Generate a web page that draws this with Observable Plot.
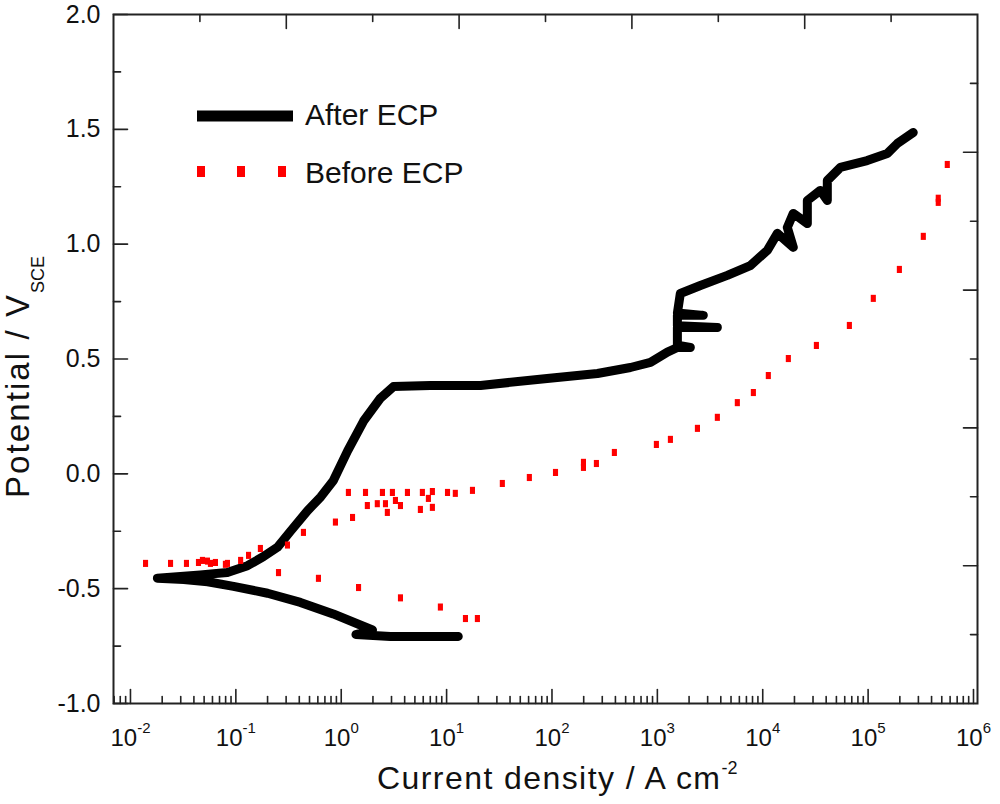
<!DOCTYPE html>
<html><head><meta charset="utf-8">
<script src="https://cdn.jsdelivr.net/npm/d3@7"></script>
<script src="https://cdn.jsdelivr.net/npm/@observablehq/plot@0.6"></script>
<style>html,body{margin:0;padding:0;background:#fff;} #chart{position:relative;width:1000px;height:804px;}</style>
</head><body><div id="chart"></div>
<script>
// ---- Data (current density in A cm^-2, potential in V vs SCE) ----
const afterI = [12.9, 5.64, 2.93, 1.38, 1.98, 0.84, 0.41, 0.20, 0.095, 0.054, 0.032, 0.018, 0.046, 0.083, 0.129, 0.183, 0.248, 0.33, 0.48, 0.64, 0.84, 1.15, 1.63, 2.36, 3.13, 7.0, 21, 90, 270, 555, 860, 1245, 1549, 2056, 1549, 1549, 3710, 1549, 1549, 2730, 1549, 1652, 2560, 4610, 7620, 11060, 13770, 19500, 17100, 19500, 26500, 26500, 35200, 41000, 41000, 54500, 98000, 152000, 189000, 268000];
const afterE = [-0.708, -0.708, -0.708, -0.70, -0.68, -0.61, -0.56, -0.52, -0.49, -0.47, -0.46, -0.455, -0.44, -0.43, -0.40, -0.36, -0.32, -0.25, -0.16, -0.10, -0.03, 0.10, 0.23, 0.33, 0.38, 0.385, 0.385, 0.415, 0.437, 0.463, 0.485, 0.53, 0.55, 0.55, 0.56, 0.637, 0.637, 0.645, 0.69, 0.69, 0.70, 0.785, 0.82, 0.864, 0.907, 0.973, 1.047, 0.986, 1.073, 1.134, 1.09, 1.19, 1.234, 1.19, 1.277, 1.334, 1.364, 1.395, 1.438, 1.486];

const beforeI = [19.6, 15.1, 8.73, 3.65, 1.46, 0.608, 0.254, 0.0139, 0.024, 0.034, 0.0442, 0.0482, 0.0538, 0.0574, 0.064, 0.0796, 0.0832, 0.111, 0.132, 0.171, 0.309, 0.438, 0.881, 1.28, 1.77, 2.20, 2.63, 2.74, 3.27, 3.65, 5.64, 7.33, 6.72, 1.17, 1.70, 2.46, 3.06, 4.25, 5.89, 7.33, 10.2, 12.1, 17.6, 33.8, 61, 108, 199, 199, 264, 391, 979, 1330, 2400, 3710, 5740, 8150, 11300, 17500, 32300, 66400, 112000, 198000, 334000, 463000, 463000, 564000];
const beforeE = [-0.63, -0.63, -0.58, -0.54, -0.495, -0.455, -0.43, -0.39, -0.39, -0.39, -0.386, -0.377, -0.38, -0.39, -0.386, -0.394, -0.39, -0.377, -0.355, -0.325, -0.31, -0.255, -0.21, -0.19, -0.138, -0.13, -0.13, -0.168, -0.116, -0.138, -0.155, -0.146, -0.107, -0.081, -0.081, -0.081, -0.081, -0.081, -0.081, -0.077, -0.081, -0.085, -0.072, -0.042, -0.016, 0.006, 0.05, 0.028, 0.045, 0.093, 0.128, 0.15, 0.198, 0.246, 0.31, 0.354, 0.428, 0.502, 0.559, 0.646, 0.764, 0.89, 1.034, 1.182, 1.20, 1.347];

const seriesNames = ["After ECP", "Before ECP"];
const xExponents = [-2, -1, 0, 1, 2, 3, 4, 5, 6];
const yMajor = [-1.0, -0.5, 0.0, 0.5, 1.0, 1.5, 2.0];
const yMinor = [-0.75, -0.25, 0.25, 0.75, 1.25, 1.75];
const xLabel = "Current density / A cm";
const xLabelSup = "-2";
const yLabel = "Potential / V";
const yLabelSub = "SCE";

// ---- Derived tables ----
const xLo = -2.161, xHi = 6.038;
const after = afterI.map((v, i) => ({i: v, e: afterE[i]}));
const before = beforeI.map((v, i) => ({i: v, e: beforeE[i]}));
const xMajor = xExponents.map(p => 10 ** p);
const xMinor = [];
for (let p = -3; p <= 6; p++) for (let m = 2; m <= 9; m++) {
  const v = m * 10 ** p;
  if (Math.log10(v) > xLo && Math.log10(v) < xHi) xMinor.push(v);
}
const k10 = d3.range(1, 10);
const topMajor = k10.filter(k => k % 2 === 0).map(k => 10 ** (xLo + k * (xHi - xLo) / 10));
const topMinor = k10.filter(k => k % 2 === 1).map(k => 10 ** (xLo + k * (xHi - xLo) / 10));
const rightMajor = k10.filter(k => k % 2 === 0).map(k => 2 - k * 0.3);
const rightMinor = k10.filter(k => k % 2 === 1).map(k => 2 - k * 0.3);

const tickShape = {draw(ctx, l) { ctx.moveTo(0, 0); ctx.lineTo(0, -l); }};
const T = {stroke: "#222", strokeWidth: 1.6, shape: tickShape, anchor: "start"};
const rectSym = {draw(ctx, size) { const s = Math.sqrt(size); ctx.rect(-s * 0.36, -s * 0.5, s * 0.72, s); }};
const FONT = "'Liberation Sans', Arial, Helvetica, sans-serif";

const svg = Plot.plot({
  width: 1000, height: 804,
  marginLeft: 113, marginRight: 23, marginTop: 14, marginBottom: 101,
  x: {type: "log", domain: [10 ** xLo, 10 ** xHi]},
  y: {domain: [-1, 2]},
  style: {fontFamily: FONT, background: "#fff", color: "#111"},
  marks: [
    Plot.line(after, {x: "i", y: "e", stroke: "#000", strokeWidth: 9, strokeLinejoin: "round", strokeLinecap: "round"}),
    Plot.dot(before, {x: "i", y: "e", symbol: rectSym, r: 4, fill: "#ff0000", stroke: "none"}),
    Plot.frame({stroke: "#222", strokeWidth: 2}),
    Plot.vectorX(xMajor, {...T, frameAnchor: "bottom", length: 14, rotate: 0}),
    Plot.vectorX(xMinor, {...T, frameAnchor: "bottom", length: 7, rotate: 0}),
    Plot.vectorX(topMajor, {...T, frameAnchor: "top", length: 14, rotate: 180}),
    Plot.vectorX(topMinor, {...T, frameAnchor: "top", length: 7, rotate: 180}),
    Plot.vectorY(yMajor, {...T, frameAnchor: "left", length: 14, rotate: 90}),
    Plot.vectorY(yMinor, {...T, frameAnchor: "left", length: 7, rotate: 90}),
    Plot.vectorY(rightMajor, {...T, frameAnchor: "right", length: 14, rotate: 270}),
    Plot.vectorY(rightMinor, {...T, frameAnchor: "right", length: 7, rotate: 270}),
    Plot.axisY(yMajor, {tickSize: 0, tickPadding: 13, fontSize: 25, label: null, tickFormat: d => d.toFixed(1)}),
    Plot.axisX(xMajor, {tickSize: 0, tickPadding: 25, fontSize: 24, label: null, tickFormat: d => String(Math.round(Math.log10(d)))})
  ]
});
document.getElementById("chart").appendChild(svg);

const S = d3.select(svg);
// x tick labels as 10 with superscript exponent
S.selectAll('g[aria-label="x-axis tick label"] text').each(function () {
  const e = this.textContent;
  const t = d3.select(this);
  t.text(null);
  t.append("tspan").text("10");
  t.append("tspan").attr("dy", -13).attr("font-size", 15).text(e);
});

const g = S.append("g").attr("fill", "#111").attr("font-family", FONT).attr("text-anchor", "start");
// x axis title
const xl = g.append("text").attr("x", 377).attr("y", 789).attr("font-size", 32).attr("text-anchor", "start");
xl.append("tspan").attr("textLength", 343).text(xLabel);
xl.append("tspan").attr("dy", -15).attr("font-size", 18).text(xLabelSup);
// y axis title
const yl = g.append("text").attr("transform", "translate(29,498) rotate(-90)").attr("font-size", 33).attr("text-anchor", "start");
yl.append("tspan").attr("textLength", 203).text(yLabel);
yl.append("tspan").attr("dy", 15).attr("font-size", 18).text(yLabelSub);

// legend
const lg = g.append("g");
lg.append("line").attr("x1", 197).attr("x2", 293).attr("y1", 116).attr("y2", 116)
  .attr("stroke", "#000").attr("stroke-width", 11);
[201, 241, 282].forEach(x => lg.append("rect").attr("x", x - 4).attr("y", 166)
  .attr("width", 8).attr("height", 11).attr("fill", "#ff0000"));
lg.append("text").attr("x", 305).attr("y", 125).attr("font-size", 30).attr("text-anchor", "start").text(seriesNames[0]);
lg.append("text").attr("x", 305).attr("y", 183).attr("font-size", 30).attr("text-anchor", "start").text(seriesNames[1]);
</script>
</body></html>
